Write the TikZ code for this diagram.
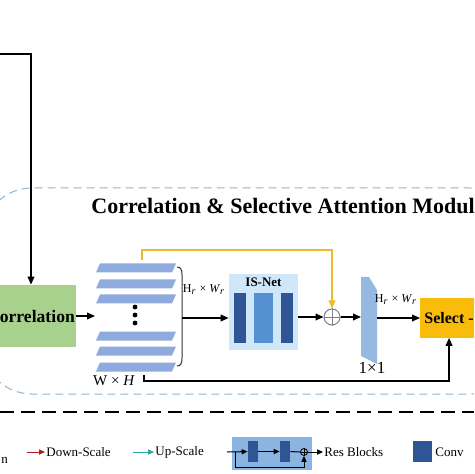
\documentclass[tikz,border=0pt]{standalone}
\usepackage{fontspec}
\setmainfont{Liberation Serif}
\usepackage{tikz}
\usetikzlibrary{arrows.meta,positioning,calc}
\definecolor{corrgreen}{RGB}{169,209,142}
\definecolor{selorange}{RGB}{250,188,10}
\definecolor{slabblue}{RGB}{143,170,220}
\definecolor{netbg}{RGB}{208,231,250}
\definecolor{darkblue}{RGB}{47,85,151}
\definecolor{midblue}{RGB}{85,145,210}
\definecolor{trapblue}{RGB}{150,185,225}
\definecolor{resbg}{RGB}{140,180,225}
\definecolor{frameblue}{RGB}{140,180,210}
\definecolor{tapyellow}{RGB}{240,185,40}
\definecolor{downred}{RGB}{170,30,30}
\definecolor{upteal}{RGB}{40,170,160}
\newcommand{\fsz}[1]{\fontsize{#1}{#1}\selectfont}

\begin{document}
\begin{tikzpicture}[x=0.5pt,y=-0.5pt,
    arr/.style={draw=black,line width=0.7pt,-{Triangle[length=4pt,width=3.4pt]}},
    legarr/.style={line width=0.5pt,-{Triangle[length=3pt,width=2.6pt]}},
    legtext/.style={font=\fsz{6.5},inner sep=0.5pt,anchor=west},
    bar/.style={minimum height=24.5pt,inner sep=0},
    resconv/.style={fill=darkblue,minimum width=5pt,minimum height=10.5pt,inner sep=0}]
    \useasboundingbox (0,0) rectangle (474,474);
    \clip (0,0) rectangle (474,474);

    % Module frame and title
    \draw[frameblue,line width=0.5pt,dash pattern=on 4pt off 2.5pt,rounded corners=25pt] (-18,188) rectangle (520,394);
    \node[anchor=base west,inner sep=0,font=\bfseries\fsz{11}] (title) at (91,214) {Correlation \& Selective Attention Module};

    % Correlation block
    \node[fill=corrgreen,minimum width=45pt,minimum height=31pt,inner sep=0,font=\bfseries\fsz{8.8}] (corr) at (31,316) {Correlation};
    \coordinate (feed) at (0,54);
    \draw[arr] (feed) -| (corr.north);

    % Stack of maps
    \foreach \y in {268,284,299,336,351,367}
        \fill[slabblue] (96,\y+4.5) -- (172,\y+4.5) -- (176,\y-4.5) -- (100,\y-4.5) -- cycle;
    \foreach \y in {307,315,323}
        \fill (135,\y) circle (1.2pt);
    \coordinate (stackin) at (95,316);
    \draw[arr] (corr) -- (stackin);
    \node[font=\fsz{7.5},inner sep=0] (wh) at (114,381) {W × \textit{H}};

    % Brace and H_r x W_r
    \draw[black!80,line width=0.5pt] (177,267) .. controls (181,267) and (182,270) .. (182,275) -- (182,358) .. controls (182,363) and (181,366) .. (177,366);
    \coordinate (brace) at (182,318);
    \node[font=\fsz{6},inner sep=0] (hw1) at (204,290) {H\textsubscript{\textit{r}} × \textit{W}\textsubscript{\textit{r}}};

    % IS-Net
    \node[fill=netbg,minimum width=34.5pt,minimum height=38pt,inner sep=0] (isnet) at (263.5,312) {};
    \node[font=\bfseries\fsz{6.5},inner sep=0] (isnetlbl) at (263.5,282) {IS-Net};
    \node[bar,fill=darkblue,minimum width=6pt] (bar1) at (240,318) {};
    \node[bar,fill=midblue,minimum width=9.5pt] (bar2) at (263.5,318) {};
    \node[bar,fill=darkblue,minimum width=6pt] (bar3) at (287,318) {};
    \draw[arr] (brace) -- (isnet.west |- brace);

    % Sum and yellow skip
    \node[circle,draw=gray,fill=white,line width=0.5pt,minimum size=8pt,inner sep=0] (plus) at (332,317) {};
    \draw[gray,line width=0.5pt] (plus.north) -- (plus.south) (plus.west) -- (plus.east);
    \draw[arr] (isnet.east |- plus) -- (plus);
    \coordinate (ytap) at (142,260);
    \draw[arr,draw=tapyellow,-{Triangle[length=4pt,width=3.4pt,fill=tapyellow]}] (ytap) -- ++(0,-10) -| (plus.north);

    % 1x1 conv
    \fill[trapblue] (361,277) -- (369,277) -- (377,290) -- (377,364) -- (361,356) -- cycle;
    \coordinate (trapin) at (361,317);
    \coordinate (trapout) at (377,318);
    \draw[arr] (plus) -- (trapin);
    \node[font=\fsz{8.5},inner sep=0] (onebyone) at (372,368) {1×1};
    \node[font=\fsz{6},inner sep=0] (hw2) at (396,300) {H\textsubscript{\textit{r}} × \textit{W}\textsubscript{\textit{r}}};

    % Select
    \node[fill=selorange,anchor=west,minimum height=19.5pt,inner xsep=2pt,font=\bfseries\fsz{8}] (select) at (420,318) {Select -};
    \draw[arr] (trapout) -- (select);
    \coordinate (whtap) at (144,375);
    \draw[arr] (whtap) -- ++(0,6) -| (select.south);

    % Separator
    \draw[line width=1.1pt,dash pattern=on 7pt off 3.5pt] (0,412) -- (474,412);

    % Legend
    \node[font=\fsz{6.5},anchor=base west,inner sep=0] (cutword) at (1,463) {n};
    \coordinate (dsfrom) at (27,452);
    \node[legtext] (dslbl) at (45,452) {Down-Scale};
    \draw[legarr,downred] (dsfrom) -- (dslbl);
    \coordinate (usfrom) at (133,452);
    \node[legtext] (uslbl) at (154,452) {Up-Scale};
    \draw[legarr,upteal] (usfrom) -- (uslbl);

    \node[fill=resbg,minimum width=40pt,minimum height=16.5pt,inner sep=0] (resbox) at (272,453.5) {};
    \node[resconv] (rb1) at (253,451.5) {};
    \node[resconv] (rb2) at (285,451.5) {};
    \node[circle,draw=black,line width=0.4pt,minimum size=3.5pt,inner sep=0] (rbplus) at (304,452) {};
    \draw[line width=0.4pt] (rbplus.north) -- (rbplus.south) (rbplus.west) -- (rbplus.east);
    \node[legtext] (rblbl) at (323,452) {Res Blocks};
    \coordinate (rbin) at (227,452);
    \coordinate (rbskip) at (235,452);
    \draw[legarr] (rbin) -- (rb1);
    \draw[legarr] (rb1) -- (rb2);
    \draw[line width=0.5pt] (rb2) -- (rbplus);
    \draw[legarr] (rbplus) -- (rblbl);
    \draw[legarr] (rbskip) -- ++(0,15) -| (rbplus.south);

    \node[fill=darkblue,minimum width=9.5pt,minimum height=10.5pt,inner sep=0] (convsq) at (422.5,451.5) {};
    \node[legtext] (convlbl) at (434,452) {Conv};
\end{tikzpicture}
\end{document}
